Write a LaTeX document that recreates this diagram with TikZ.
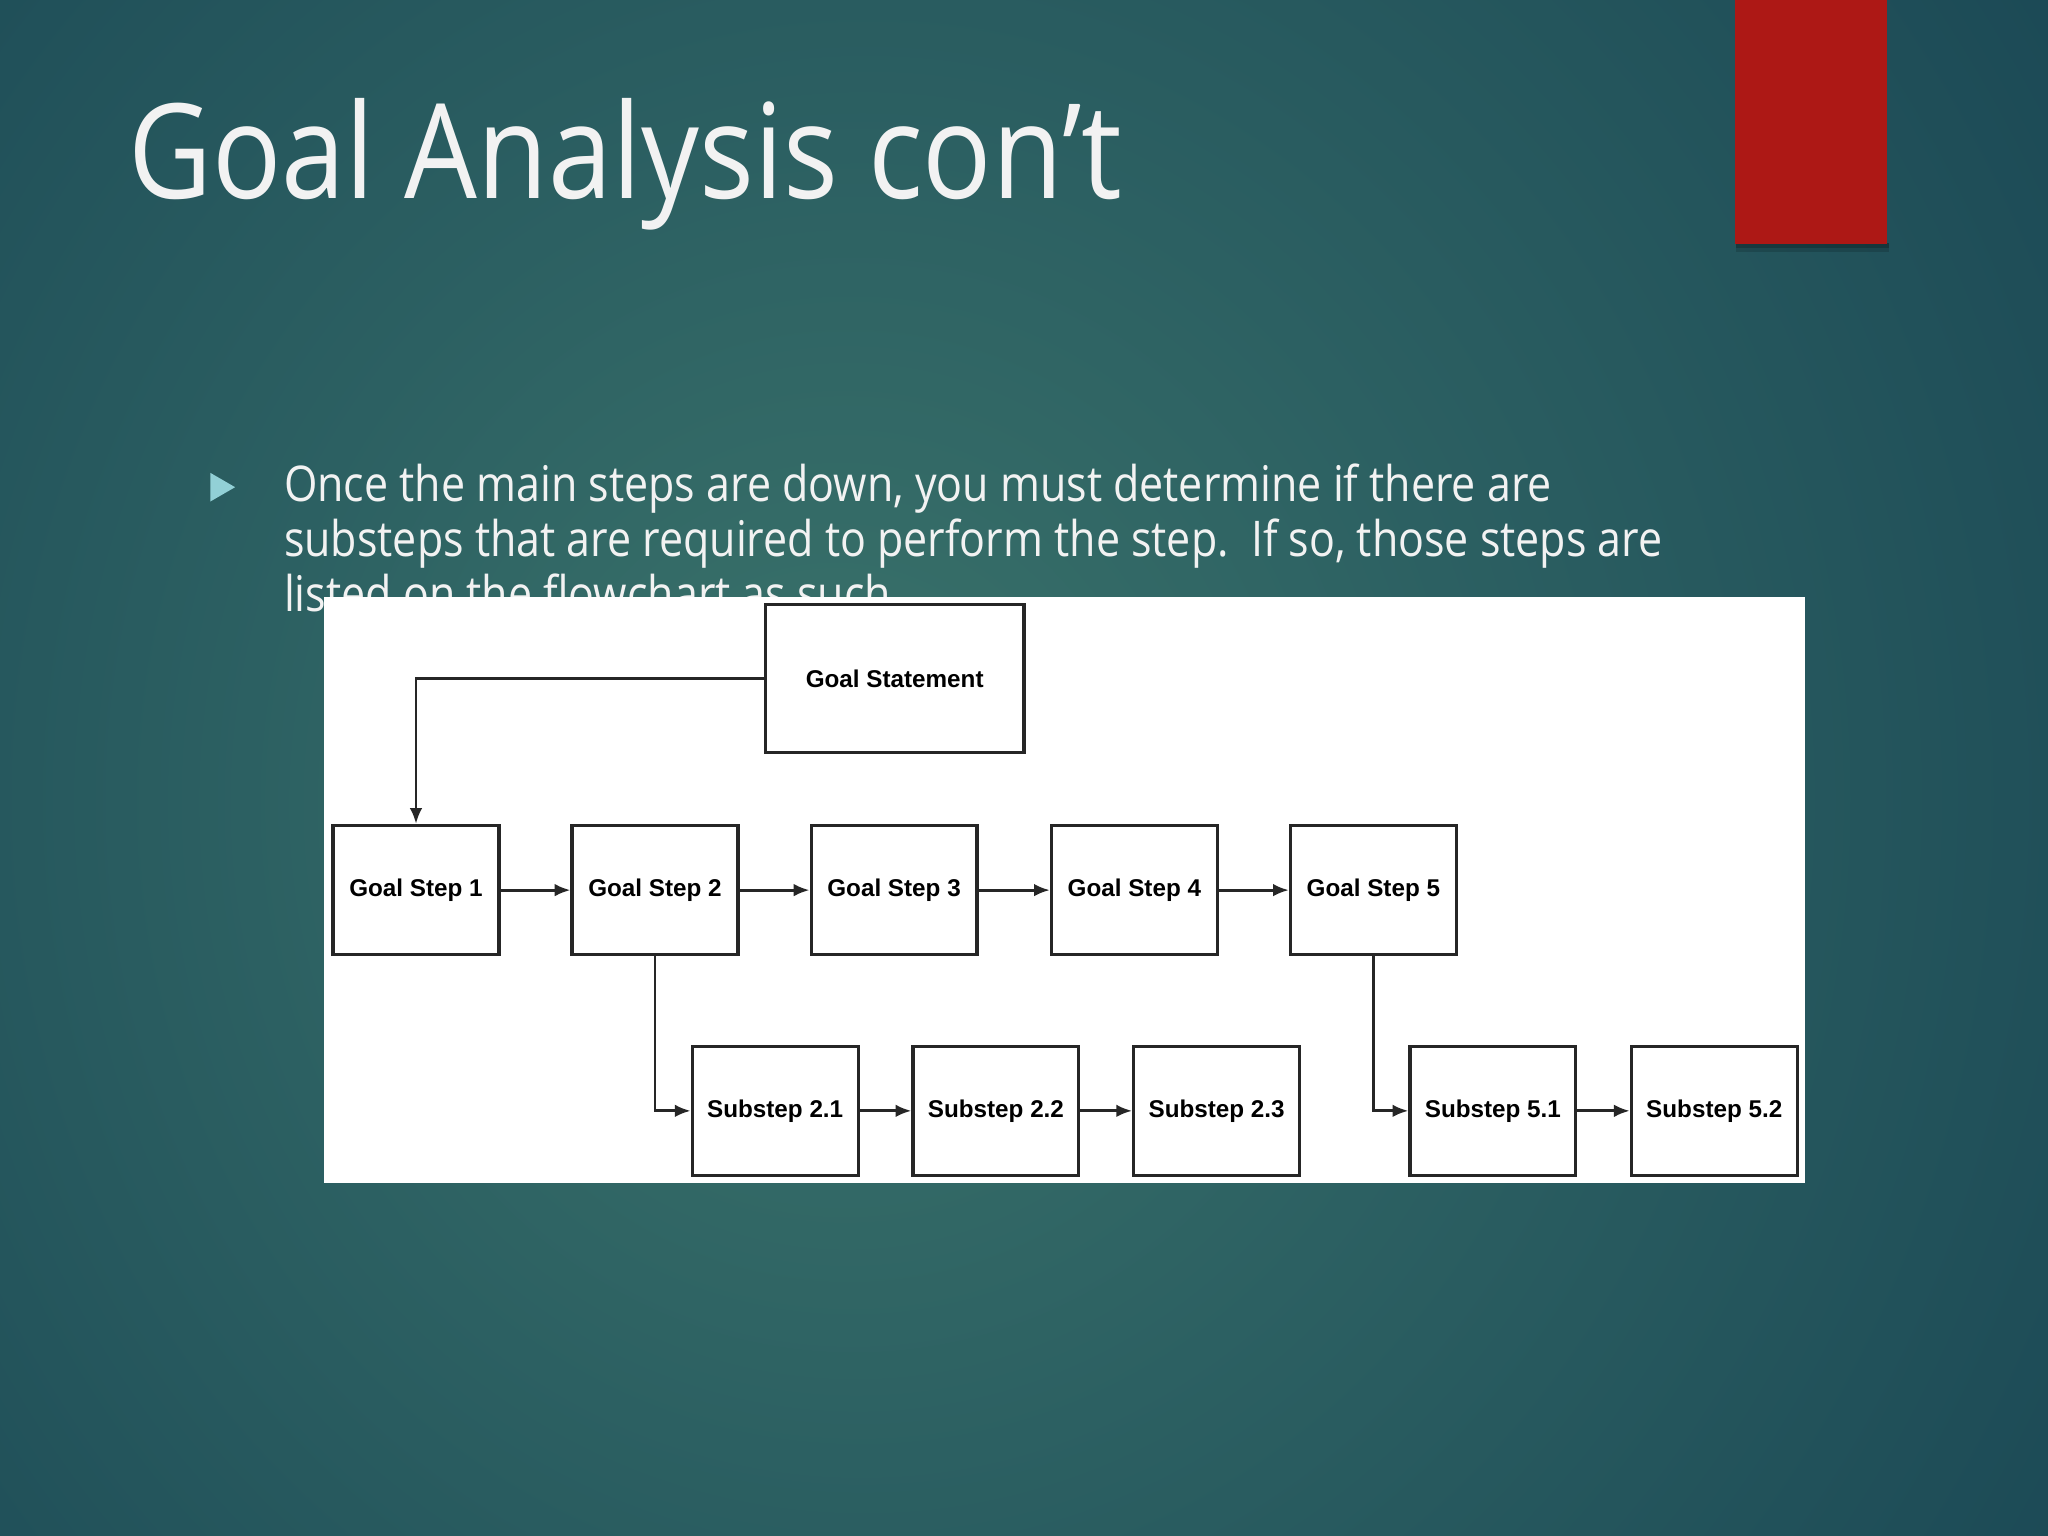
\documentclass[tikz,border=0pt]{standalone}
\usepackage{fontspec}
\setmainfont{Open Sans}
\newfontfamily\slidefont{Open Sans}[FakeStretch=0.873]
\newfontfamily\chartfont{Liberation Sans}
\usetikzlibrary{arrows.meta}
\definecolor{bgc}{HTML}{3B746B}
\definecolor{bgm}{HTML}{2C6062}
\definecolor{bgn}{HTML}{1C4A56}
\definecolor{bge}{HTML}{163D4D}
\definecolor{bgx}{HTML}{123343}
\definecolor{redbar}{HTML}{AD1815}
\definecolor{bulletcol}{HTML}{92D0D6}
\definecolor{slidetext}{HTML}{F2F2F2}
\definecolor{boxline}{HTML}{262626}
\pgfdeclareradialshading{slidebg}{\pgfpoint{-5bp}{-1bp}}{color(0bp)=(bgc); color(15bp)=(bgm); color(33bp)=(bgn); color(48bp)=(bge); color(75bp)=(bgx)}
\tikzset{
  titletext/.style={anchor=base west, inner sep=0pt, text=slidetext, font=\slidefont\fontsize{37.5}{45}\selectfont},
  bodytext/.style={anchor=base west, inner sep=0pt, text=slidetext, font=\slidefont\fontsize{14}{17}\selectfont},
  stepbox/.style={draw=boxline, fill=white, line width=0.9pt, minimum width=1.659cm, minimum height=1.293cm, inner sep=0pt, font=\chartfont\bfseries\fontsize{6.9}{8}\selectfont},
  goalbox/.style={stepbox, minimum width=2.586cm, minimum height=1.476cm},
  flowarrow/.style={draw=boxline, line width=0.8pt, -{Latex[length=4.5pt,width=3.6pt]}}
}
\begin{document}
\begin{tikzpicture}[x=0.013061cm,y=-0.013061cm]
\useasboundingbox (0,0) rectangle (1568,1176);
\begin{scope}
\clip (0,0) rectangle (1568,1176);
\fill[bgx] (0,0) rectangle (1568,1176);
\shade[shading=slidebg] (0,-250) rectangle (1568,1426);
\end{scope}
% red bar with soft shadow
\fill[black, opacity=0.15] (1329,186) rectangle (1446,193);
\fill[black, opacity=0.2] (1329,186) rectangle (1446,190);
\fill[redbar] (1328,0) rectangle (1445,187);
% title
\node[titletext] (title) at (98,152) {Goal Analysis con’t};
% bullet
\fill[bulletcol] (161,362) -- (180,373) -- (161,384) -- cycle;
\node[bodytext] (line1) at (217,384) {Once the main steps are down, you must determine if there are};
\node[bodytext] (line2) at (217,426) {substeps that are required to perform the step.\ \ If so, those steps are};
\node[bodytext] (line3) at (217,468) {listed on the flowchart as such.};
% flowchart picture
\fill[white] (248,457) rectangle (1382,906);
\node[goalbox] (gs) at (685,519.5) {Goal Statement};
\node[stepbox] (s1) at (318.5,681.5) {Goal Step 1};
\node[stepbox] (s2) at (501.5,681.5) {Goal Step 2};
\node[stepbox] (s3) at (684.5,681.5) {Goal Step 3};
\node[stepbox] (s4) at (868.5,681.5) {Goal Step 4};
\node[stepbox] (s5) at (1051.5,681.5) {Goal Step 5};
\node[stepbox] (u21) at (593.5,850.5) {Substep 2.1};
\node[stepbox] (u22) at (762.5,850.5) {Substep 2.2};
\node[stepbox] (u23) at (931.5,850.5) {Substep 2.3};
\node[stepbox] (u51) at (1143,850.5) {Substep 5.1};
\node[stepbox] (u52) at (1312.5,850.5) {Substep 5.2};
\draw[flowarrow] (gs.west) -| (s1.north);
\draw[flowarrow] (s1) -- (s2);
\draw[flowarrow] (s2) -- (s3);
\draw[flowarrow] (s3) -- (s4);
\draw[flowarrow] (s4) -- (s5);
\draw[flowarrow] (s2.south) |- (u21.west);
\draw[flowarrow] (u21) -- (u22);
\draw[flowarrow] (u22) -- (u23);
\draw[flowarrow] (s5.south) |- (u51.west);
\draw[flowarrow] (u51) -- (u52);
\end{tikzpicture}
\end{document}
